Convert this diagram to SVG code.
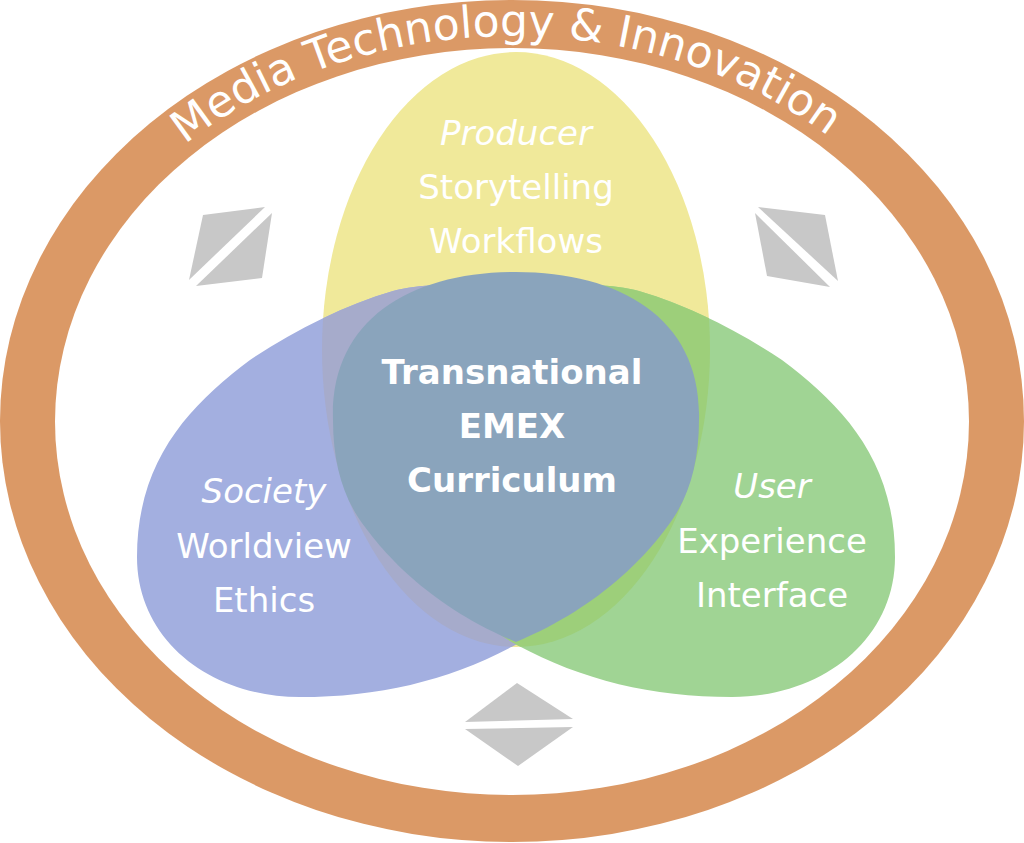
<svg xmlns="http://www.w3.org/2000/svg" width="1024" height="843" viewBox="0 0 1024 843">
<style>
.lbl{font-family:"DejaVu Sans","Liberation Sans",sans-serif;font-size:34px;fill:#ffffff;text-anchor:middle}
.it{font-style:italic}
.bd{font-weight:bold}
.title{font-family:"DejaVu Sans","Liberation Sans",sans-serif;font-size:44px;fill:#ffffff}
.arrow{fill:#c8c8c8}
</style>
<defs>
<ellipse id="eY" cx="516" cy="349.5" rx="194" ry="297.5"/>
<path id="pB" d="M300,697 C210,697 137,640 137,557 C137,460 190,405 250,360 C295,330 345,305 393,291 C450,275 560,290 620,380 C660,450 600,600 515,645 C450,680 380,697 300,697 Z"/>
<clipPath id="cY"><use href="#eY"/></clipPath>
<path id="arcPath" d="M 42,421 A 470,385 0 0 1 982,421"/>
</defs>
<g id="ring">
<ellipse cx="512" cy="421" rx="512" ry="421" fill="#db9966"/>
<ellipse cx="512" cy="421.5" rx="457" ry="373.5" fill="#ffffff"/>
<text class="title"><textPath href="#arcPath" startOffset="49.5%" text-anchor="middle">Media Technology &amp; Innovation</textPath></text>
</g>
<g id="producer">
<use href="#eY" fill="#f0e99a"/>
</g>
<g id="society">
<use href="#pB" fill="#a3afe0"/>
</g>
<g id="user">
<use href="#pB" fill="#a0d494" transform="matrix(-1,0,0,1,1032,0)"/>
</g>
<g id="overlaps" clip-path="url(#cY)">
<use href="#pB" fill="#a6abcb"/>
<use href="#pB" fill="#9dcf7a" transform="matrix(-1,0,0,1,1032,0)"/>
</g>
<g id="core">
<path fill="#8aa4bc" d="M516,272 C622,272 702,320 699,420 C699,465 688,500 667,527 C650,550 605,605 516,642 C427,605 382,550 365,527 C344,500 333,465 333,420 C330,320 410,272 516,272 Z"/>
</g>
<g id="labels">
<text class="lbl it" x="516" y="145">Producer</text>
<text class="lbl" x="516" y="199">Storytelling</text>
<text class="lbl" x="516" y="253">Workflows</text>
<text class="lbl it" x="264" y="503">Society</text>
<text class="lbl" x="264" y="558">Worldview</text>
<text class="lbl" x="264" y="612">Ethics</text>
<text class="lbl it" x="772" y="498">User</text>
<text class="lbl" x="772" y="553">Experience</text>
<text class="lbl" x="772" y="607">Interface</text>
<text class="lbl bd" x="512" y="384">Transnational</text>
<text class="lbl bd" x="512" y="438">EMEX</text>
<text class="lbl bd" x="512" y="492">Curriculum</text>
</g>
<g id="connectors">
<polygon class="arrow" points="203,215 265,207 189,280"/>
<polygon class="arrow" points="272,213 262,278 196,286"/>
<polygon class="arrow" points="758,207 825,215 838,281"/>
<polygon class="arrow" points="755,213 830,287 767,276"/>
<polygon class="arrow" points="517,683 573,719 465,722"/>
<polygon class="arrow" points="465,729 573,727 518,766"/>
</g>
</svg>
